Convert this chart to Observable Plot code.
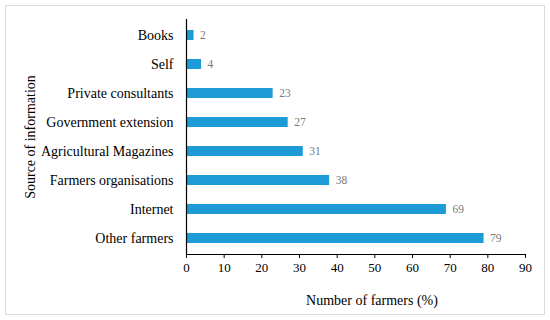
<!DOCTYPE html>
<html>
<head>
<meta charset="utf-8">
<script src="https://cdn.jsdelivr.net/npm/d3@7"></script>
<script src="https://cdn.jsdelivr.net/npm/@observablehq/plot@0.6"></script>
<style>
  html, body { margin: 0; padding: 0; background: #fff; }
  #wrap { position: relative; width: 550px; height: 320px; }
  #border { position: absolute; left: 5px; top: 5px; width: 538px; height: 308px; border: 1.5px solid #dcdcdc; pointer-events: none; }
</style>
</head>
<body>
<div id="wrap"><div id="border"></div></div>
<script>
const sources = ["Books", "Self", "Private consultants", "Government extension", "Agricultural Magazines", "Farmers organisations", "Internet", "Other farmers"];
const percents = [2, 4, 23, 27, 31, 38, 69, 79];
const xTicks = [0, 10, 20, 30, 40, 50, 60, 70, 80, 90];
const xTitle = "Number of farmers (%)";
const yTitle = "Source of information";

const data = sources.map((s, i) => ({source: s, value: percents[i]}));
const serif = "Liberation Serif";

const chart = Plot.plot({
  width: 550,
  height: 320,
  marginLeft: 186,
  marginRight: 25,
  marginTop: 19,
  marginBottom: 66,
  style: {fontFamily: serif, background: "transparent"},
  x: {domain: [0, 90], ticks: xTicks, labelArrow: "none"},
  y: {domain: sources, paddingInner: 0.64, paddingOuter: 0.32},
  marks: [
    Plot.barX(data, {x: "value", y: "source", fill: "#1c9bd7"}),
    Plot.text(data, {x: "value", y: "source", text: d => String(d.value), textAnchor: "start", dx: 6, fill: "#7a7a7a", fontSize: 11.5, fontFamily: serif}),
    Plot.ruleX([0], {stroke: "black", strokeWidth: 1.2}),
    Plot.frame({anchor: "bottom", stroke: "black", strokeWidth: 1.2}),
    Plot.axisX({ticks: xTicks, tickSize: 4, tickPadding: 4, fontSize: 13, fontFamily: serif, label: null, color: "black", stroke: "black"}),
    Plot.text([xTitle], {frameAnchor: "bottom", text: d => d, dx: 16, dy: 46, lineAnchor: "middle", fontSize: 14, fontFamily: serif, fill: "black"}),
    Plot.axisY({tickSize: 0, tickPadding: 13, fontSize: 14, fontFamily: serif, label: yTitle, labelAnchor: "center", labelOffset: 161, color: "black"})
  ]
});
chart.querySelectorAll("[aria-label='y-axis label'] text").forEach(t => t.setAttribute("font-size", "14"));
chart.querySelectorAll("text").forEach(t => t.style.setProperty("font-family", "'Liberation Serif', serif", "important"));
document.getElementById("wrap").prepend(chart);
</script>
</body>
</html>
